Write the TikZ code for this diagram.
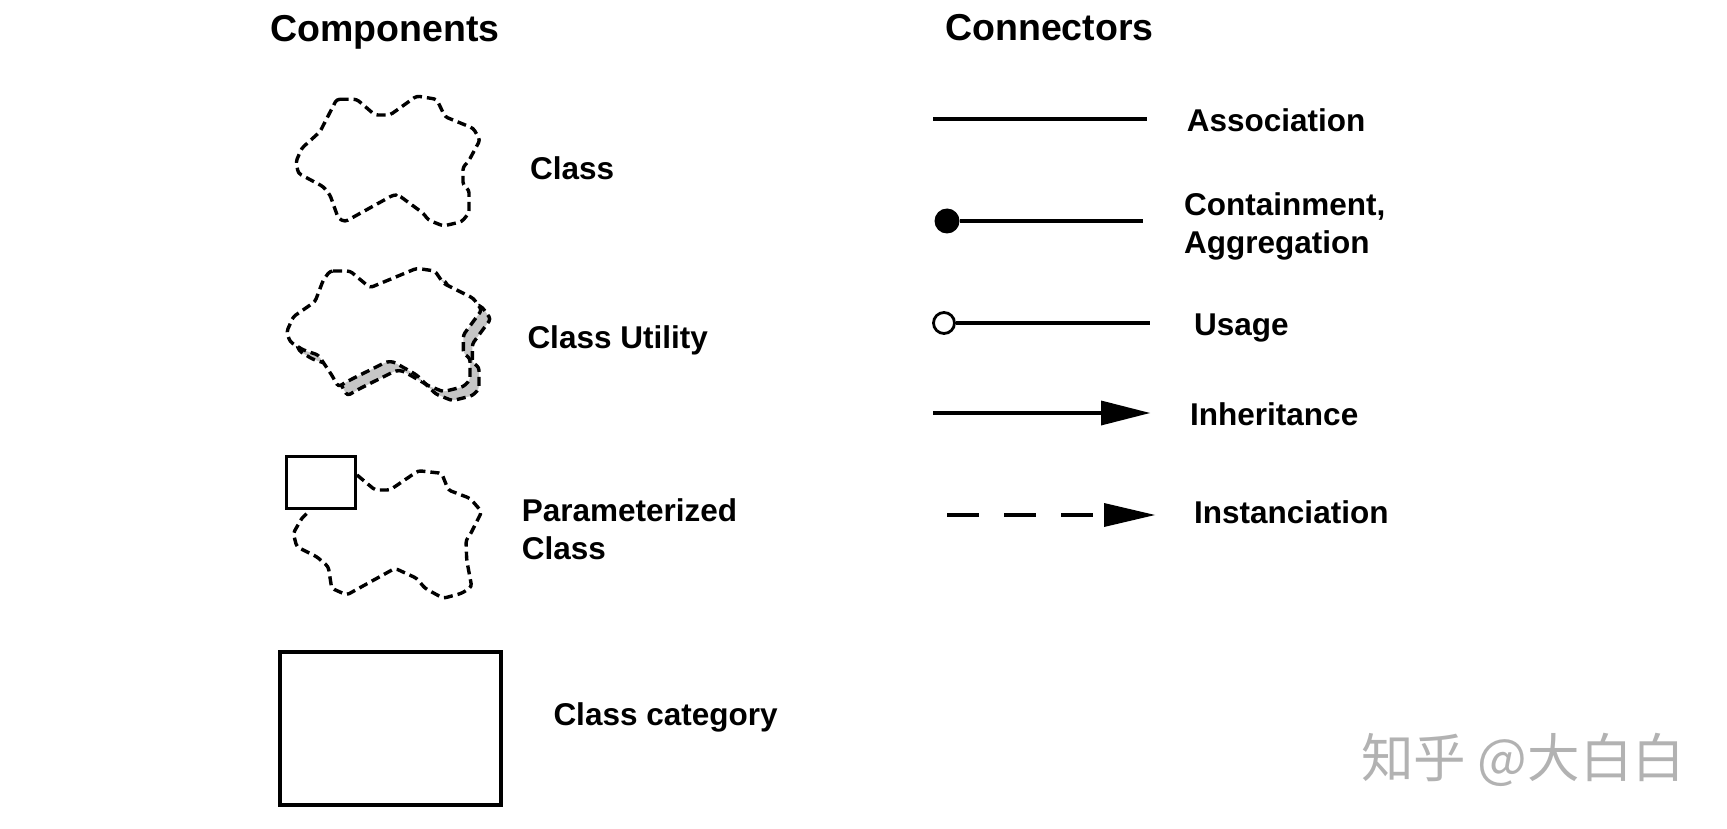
\documentclass[tikz,border=0pt]{standalone}
\usepackage{fontspec}
\setmainfont{Liberation Sans}
\newfontfamily\cjkfont{Noto Sans CJK SC}
\begin{document}
\begin{tikzpicture}[x=1pt,y=-1pt,
  cloud/.style={line width=3.4pt, dash pattern=on 9pt off 5pt, rounded corners=3pt, line join=round},
  lbl/.style={anchor=base west, inner sep=0pt, font=\bfseries\fontsize{31.5}{37.5}\selectfont},
  lbltwo/.style={anchor=north west, inner sep=0pt, align=left, font=\bfseries\fontsize{31.5}{37.5}\selectfont},
  hdr/.style={anchor=base west, inner sep=0pt, font=\bfseries\fontsize{37.5}{44}\selectfont},
  conn/.style={line width=3.2pt},
  tip/.style={fill=black}
]
\useasboundingbox (0,0) rectangle (1727,829);

% headers
\node[hdr] (hcomp) at (270,41.7) {Components};
\node[hdr] (hconn) at (945,41) {Connectors};

% Class cloud
\draw[cloud] (336.7,99.3) -- (356.7,99.3) -- (375,115) -- (390,115) -- (416.7,96) -- (436.7,99.3) -- (445,116.7) -- (473.3,128.3) -- (480,140) -- (468.3,161.7) -- (463,167) -- (463,185) -- (469,190) -- (469,213) -- (461.7,221.7) -- (443.3,226) -- (428.3,220) -- (423.3,213.3) -- (398.3,195) -- (393.3,195) -- (345,221.7) -- (338.3,218.3) -- (330,195) -- (323.3,186.7) -- (298.3,173.3) -- (296,161.7) -- (301.7,148.3) -- (320,131.7) -- cycle;
\node[lbl] (lclass) at (530,180) {Class};

% Class utility cloud: shadow then cloud
\filldraw[cloud, fill=gray!45, shift={(9,9)}] (330,271) -- (350,271) -- (370,287.7) -- (416.7,268.3) -- (435,271) -- (443.3,283.3) -- (473.3,298.3) -- (481.7,310) -- (463.3,335) -- (463.3,353.3) -- (470,358.3) -- (470,380) -- (463.3,386.7) -- (443.3,391.7) -- (426.7,385) -- (416.7,375) -- (393.3,361.7) -- (386.7,361.7) -- (350,380) -- (338.3,386.7) -- (331.7,375) -- (318.3,355) -- (303.3,350) -- (290,341.7) -- (286.7,331.7) -- (293.3,316.7) -- (315,301.7) -- (323.3,280) -- cycle;
\filldraw[cloud, fill=white] (330,271) -- (350,271) -- (370,287.7) -- (416.7,268.3) -- (435,271) -- (443.3,283.3) -- (473.3,298.3) -- (481.7,310) -- (463.3,335) -- (463.3,353.3) -- (470,358.3) -- (470,380) -- (463.3,386.7) -- (443.3,391.7) -- (426.7,385) -- (416.7,375) -- (393.3,361.7) -- (386.7,361.7) -- (350,380) -- (338.3,386.7) -- (331.7,375) -- (318.3,355) -- (303.3,350) -- (290,341.7) -- (286.7,331.7) -- (293.3,316.7) -- (315,301.7) -- (323.3,280) -- cycle;
\node[lbl] (lutil) at (527.3,348.3) {Class Utility};

% Parameterized class
\node[draw, line width=3.8pt, inner sep=0pt, minimum width=69pt, minimum height=52pt] (pbox) at (321,482.5) {};
\draw[cloud] (357,475) -- (375,490) -- (390,490) -- (418.3,470.7) -- (441.7,473.3) -- (448.3,490) -- (470,498.3) -- (481.7,511.7) -- (470,535) -- (466,540) -- (466.7,560) -- (471.7,586.7) -- (461.7,593.3) -- (443.3,598.3) -- (425,588.3) -- (416.7,578.3) -- (395,568.3) -- (346.7,595) -- (331.7,588.3) -- (328.3,566.7) -- (316.7,556.7) -- (296.7,546.7) -- (293.3,533.3) -- (301.7,518.3) -- (310,510.5);
\node[lbltwo] (lparam) at (521.7,498.6) {Parameterized\\Class};

% Class category
\node[draw, line width=4pt, inner sep=0pt, minimum width=220.4pt, minimum height=152.7pt] (catbox) at (390.5,728.35) {};
\node[lbl] (lcat) at (553.3,725) {Class category};

% Connectors
\coordinate (a1) at (933,119);
\coordinate (a2) at (1147,119);
\draw[conn] (a1) -- (a2);
\node[lbl] (lassoc) at (1186.7,131.7) {Association};

\node[circle, fill=black, inner sep=0pt, minimum size=25pt] (c1) at (947,221) {};
\coordinate (c2) at (1143,221);
\draw[conn] (c1) -- (c2);
\node[lbltwo] (lcont) at (1184,192.8) {Containment,\\Aggregation};

\node[circle, draw, line width=2.8pt, fill=white, inner sep=0pt, minimum size=21pt] (u1) at (944,323) {};
\coordinate (u2) at (1150,323);
\draw[conn] (u1) -- (u2);
\node[lbl] (lusage) at (1194,335) {Usage};

\coordinate (i1) at (933,413);
\coordinate (ib) at (1101,413);
\coordinate (i2) at (1150,413);
\draw[conn] (i1) -- (ib);
\fill[tip] (1101,400.5) -- (i2) -- (1101,425.5) -- cycle;
\node[lbl] (linh) at (1190,425) {Inheritance};

\coordinate (n1) at (947,515);
\coordinate (nb) at (1104,515);
\coordinate (n2) at (1155,515);
\draw[conn, dash pattern=on 32pt off 25pt] (n1) -- (nb);
\fill[tip] (1104,503) -- (n2) -- (1104,527) -- cycle;
\node[lbl] (linst) at (1194,523.3) {Instanciation};

% watermark
\node[anchor=west, inner sep=0pt, text=black!30, font=\cjkfont\fontsize{52.5}{60}\selectfont] (wm) at (1361,760) {知乎 @大白白};
\end{tikzpicture}
\end{document}
